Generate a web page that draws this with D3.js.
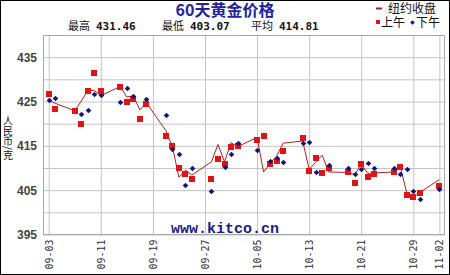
<!DOCTYPE html>
<html>
<head>
<meta charset="utf-8">
<script src="https://cdn.jsdelivr.net/npm/d3@7"></script>
<style>
  body { margin: 0; background: #fff; }
  svg { display: block; }
</style>
</head>
<body>
<svg id="chart" width="450" height="275"></svg>
<script>
// trading days shown in the 60 day window
const dates = [
  "2020-09-03", "2020-09-04", "2020-09-07", "2020-09-08", "2020-09-09", "2020-09-10", "2020-09-11",
  "2020-09-14", "2020-09-15", "2020-09-16", "2020-09-17", "2020-09-18",
  "2020-09-21", "2020-09-22", "2020-09-23", "2020-09-24", "2020-09-25",
  "2020-09-28", "2020-09-29", "2020-09-30", "2020-10-01", "2020-10-02",
  "2020-10-05", "2020-10-06", "2020-10-07", "2020-10-08", "2020-10-09",
  "2020-10-12", "2020-10-13", "2020-10-14", "2020-10-15", "2020-10-16",
  "2020-10-19", "2020-10-20", "2020-10-21", "2020-10-22", "2020-10-23",
  "2020-10-26", "2020-10-27", "2020-10-28", "2020-10-29", "2020-10-30",
  "2020-11-02"
];
// 上午 (red squares)
const amPrices = [
  426.6, 423.3, 422.9, 419.9, 427.3, 431.46, 427.3,
  428.2, 424.8, 425.5, 421.0, 424.5,
  417.2, 415.0, 409.9, 408.6, 407.6,
  407.6, 412.1, 411.0, 414.7, 415.0,
  416.3, 417.2, 410.9, 411.6, 413.8,
  416.8, 409.4, 412.2, 408.8, 410.0,
  409.0, 406.7, 410.9, 407.9, 408.6,
  409.0, 410.3, 403.9, 403.5, 404.3,
  405.9
];
// 下午 (blue diamonds)
const pmPrices = [
  425.3, 425.7, null, 422.2, 423.0, 426.7, 426.5,
  424.8, 428.0, 426.3, null, 425.5,
  422.0, 414.2, 413.1, 406.1, 409.9,
  404.8, null, 410.3, 413.1, 415.6,
  414.0, null, 411.6, 412.2, 411.4,
  415.6, 415.9, 409.1, null, 410.7,
  410.1, 408.6, 409.7, 411.2, 410.1,
  409.9, 408.6, 409.7, 404.8, 403.07,
  405.2
];
// 纽约收盘 (line)
const nyClose = [
  425.2, 424.6, 422.9, 425.1, 427.5, 427.5, 426.3,
  428.4, 426.0, 426.3, 423.1, 424.7,
  418.4, 414.8, 407.9, 409.5, 408.4,
  411.4, 415.3, 411.4, 415.7, 414.8,
  416.9, 409.1, 411.0, 412.7, 415.6,
  416.1, 409.7, 411.3, 412.9, 409.1,
  409.0, 408.5, 410.9, 408.8, 408.9,
  409.1, 410.3, 404.3, 403.4, 404.5,
  407.4
];
const xTickDates = ["2020-09-03", "2020-09-11", "2020-09-19", "2020-09-27", "2020-10-05",
  "2020-10-13", "2020-10-21", "2020-10-29", "2020-11-02"];
const yLabelTicks = [395, 405, 415, 425, 435];
const yGridTicks = [395, 400, 405, 410, 415, 420, 425, 430, 435, 440];
const statNames = ["最高", "最低", "平均"];
const statValues = [431.46, 403.07, 414.81];

const parse = d3.utcParse("%Y-%m-%d");
const fmt = d3.utcFormat("%m-%d");
const days = dates.map(parse);

const svg = d3.select("#chart");
const W = 450, H = 275;
const plotL = 43, plotR = 444, plotT = 35, plotB = 234.5;

const x = d3.scaleUtc()
  .domain([d3.utcHour.offset(days[0], -21), d3.utcHour.offset(days[days.length - 1], 17)])
  .range([plotL, plotR]);
const y = d3.scaleLinear().domain([395, 440]).range([plotB, plotT]);

const gridColor = "#c4c4c4";

// outer border
svg.append("rect")
  .attr("x", 0.5).attr("y", 0.5).attr("width", W - 1).attr("height", H - 1)
  .attr("fill", "#fff").attr("stroke", "#000");

// horizontal grid
const yGrid = svg.append("g")
  .attr("transform", `translate(${plotL},0)`)
  .call(d3.axisLeft(y).tickValues(yGridTicks).tickSize(-(plotR - plotL)).tickFormat(""));
yGrid.select(".domain").remove();
yGrid.selectAll("line").attr("stroke", gridColor);

// vertical grid + rotated date labels
const xAxis = svg.append("g")
  .attr("transform", `translate(0,${plotB})`)
  .call(d3.axisBottom(x).tickValues(xTickDates.map(parse)).tickSize(-(plotB - plotT)).tickFormat(fmt));
xAxis.select(".domain").remove();
xAxis.selectAll("line").attr("stroke", gridColor);
xAxis.selectAll("text")
  .attr("transform", "rotate(-90)")
  .attr("x", -5).attr("y", 0).attr("dy", "0.35em")
  .style("text-anchor", "end")
  .style("font-family", "'DejaVu Sans Mono', monospace")
  .style("font-size", "10px")
  .attr("fill", "#333");

// plot frame
svg.append("rect")
  .attr("x", plotL + 0.5).attr("y", plotT + 0.5)
  .attr("width", plotR - plotL).attr("height", plotB - plotT - 0.5)
  .attr("fill", "none").attr("stroke", "#a8a8a8");

// y labels
const yAxis = svg.append("g")
  .attr("transform", `translate(${plotL},0)`)
  .call(d3.axisLeft(y).tickValues(yLabelTicks).tickSize(0).tickPadding(6));
yAxis.select(".domain").remove();
yAxis.selectAll("text")
  .style("font-family", "'Liberation Sans', Arial, sans-serif")
  .style("font-size", "12px")
  .style("font-weight", "bold")
  .attr("fill", "#444");

// y title, vertical
svg.append("text")
  .attr("x", 8).attr("y", 138)
  .style("writing-mode", "vertical-rl")
  .attr("text-anchor", "middle")
  .style("font-family", "'Noto Sans CJK SC', sans-serif")
  .style("font-size", "10px")
  .attr("fill", "#111")
  .text("人民币/克");

// watermark
svg.append("text")
  .attr("x", 225).attr("y", 233)
  .attr("text-anchor", "middle")
  .style("font-family", "'Liberation Mono', monospace")
  .style("font-size", "15px")
  .style("font-weight", "bold")
  .attr("fill", "#1c1c8c")
  .text("www.kitco.cn");

// NY close line
const line = d3.line()
  .defined((d, i) => nyClose[i] != null)
  .x((d, i) => x(days[i]))
  .y((d, i) => y(nyClose[i]));
svg.append("path")
  .datum(nyClose)
  .attr("d", line)
  .attr("fill", "none")
  .attr("stroke", "#b02020")
  .attr("stroke-width", 1);

// AM squares
svg.append("g").selectAll("rect")
  .data(amPrices.map((v, i) => ({ d: days[i], v })).filter(p => p.v != null))
  .join("rect")
  .attr("x", p => Math.round(x(p.d)) - 3)
  .attr("y", p => Math.round(y(p.v)) - 3)
  .attr("width", 6).attr("height", 6)
  .attr("fill", "#e01414");

// PM diamonds
const diamond = d3.symbol(d3.symbolDiamond2, 20);
svg.append("g").selectAll("path")
  .data(pmPrices.map((v, i) => ({ d: days[i], v })).filter(p => p.v != null))
  .join("path")
  .attr("transform", p => `translate(${Math.round(x(p.d)) + 0.5},${Math.round(y(p.v)) + 0.5})`)
  .attr("d", diamond)
  .attr("fill", "#14147a");

// title
svg.append("text")
  .attr("x", 225).attr("y", 16)
  .attr("text-anchor", "middle")
  .style("font-family", "'Noto Sans CJK SC', sans-serif")
  .style("font-size", "16px")
  .style("font-weight", "bold")
  .attr("fill", "#2222a0")
  .text("60天黄金价格");

// stats line
const statX = [68, 162, 251];
statNames.forEach((name, i) => {
  const t = svg.append("text")
    .attr("x", statX[i]).attr("y", 30)
    .attr("fill", "#111");
  t.append("tspan")
    .style("font-family", "'Noto Sans CJK SC', sans-serif")
    .style("font-size", "11px")
    .text(name);
  t.append("tspan")
    .attr("dx", 6)
    .style("font-family", "'DejaVu Sans Mono', monospace")
    .style("font-size", "11px")
    .style("font-weight", "bold")
    .text(statValues[i].toFixed(2));
});

// legend
const legend = svg.append("g").style("font-family", "'Noto Sans CJK SC', sans-serif").style("font-size", "12px");
legend.append("line")
  .attr("x1", 376).attr("x2", 382).attr("y1", 8.5).attr("y2", 8.5)
  .attr("stroke", "#b02020").attr("stroke-width", 2);
legend.append("text").attr("x", 388).attr("y", 13).attr("fill", "#111").text("纽约收盘");
legend.append("rect").attr("x", 376).attr("y", 20).attr("width", 4).attr("height", 4).attr("fill", "#e01414");
legend.append("text").attr("x", 381).attr("y", 27).attr("fill", "#111").text("上午");
legend.append("path")
  .attr("transform", "translate(412.5,22.5)")
  .attr("d", d3.symbol(d3.symbolDiamond2, 14))
  .attr("fill", "#14147a");
legend.append("text").attr("x", 416).attr("y", 27).attr("fill", "#111").text("下午");
</script>
</body>
</html>
